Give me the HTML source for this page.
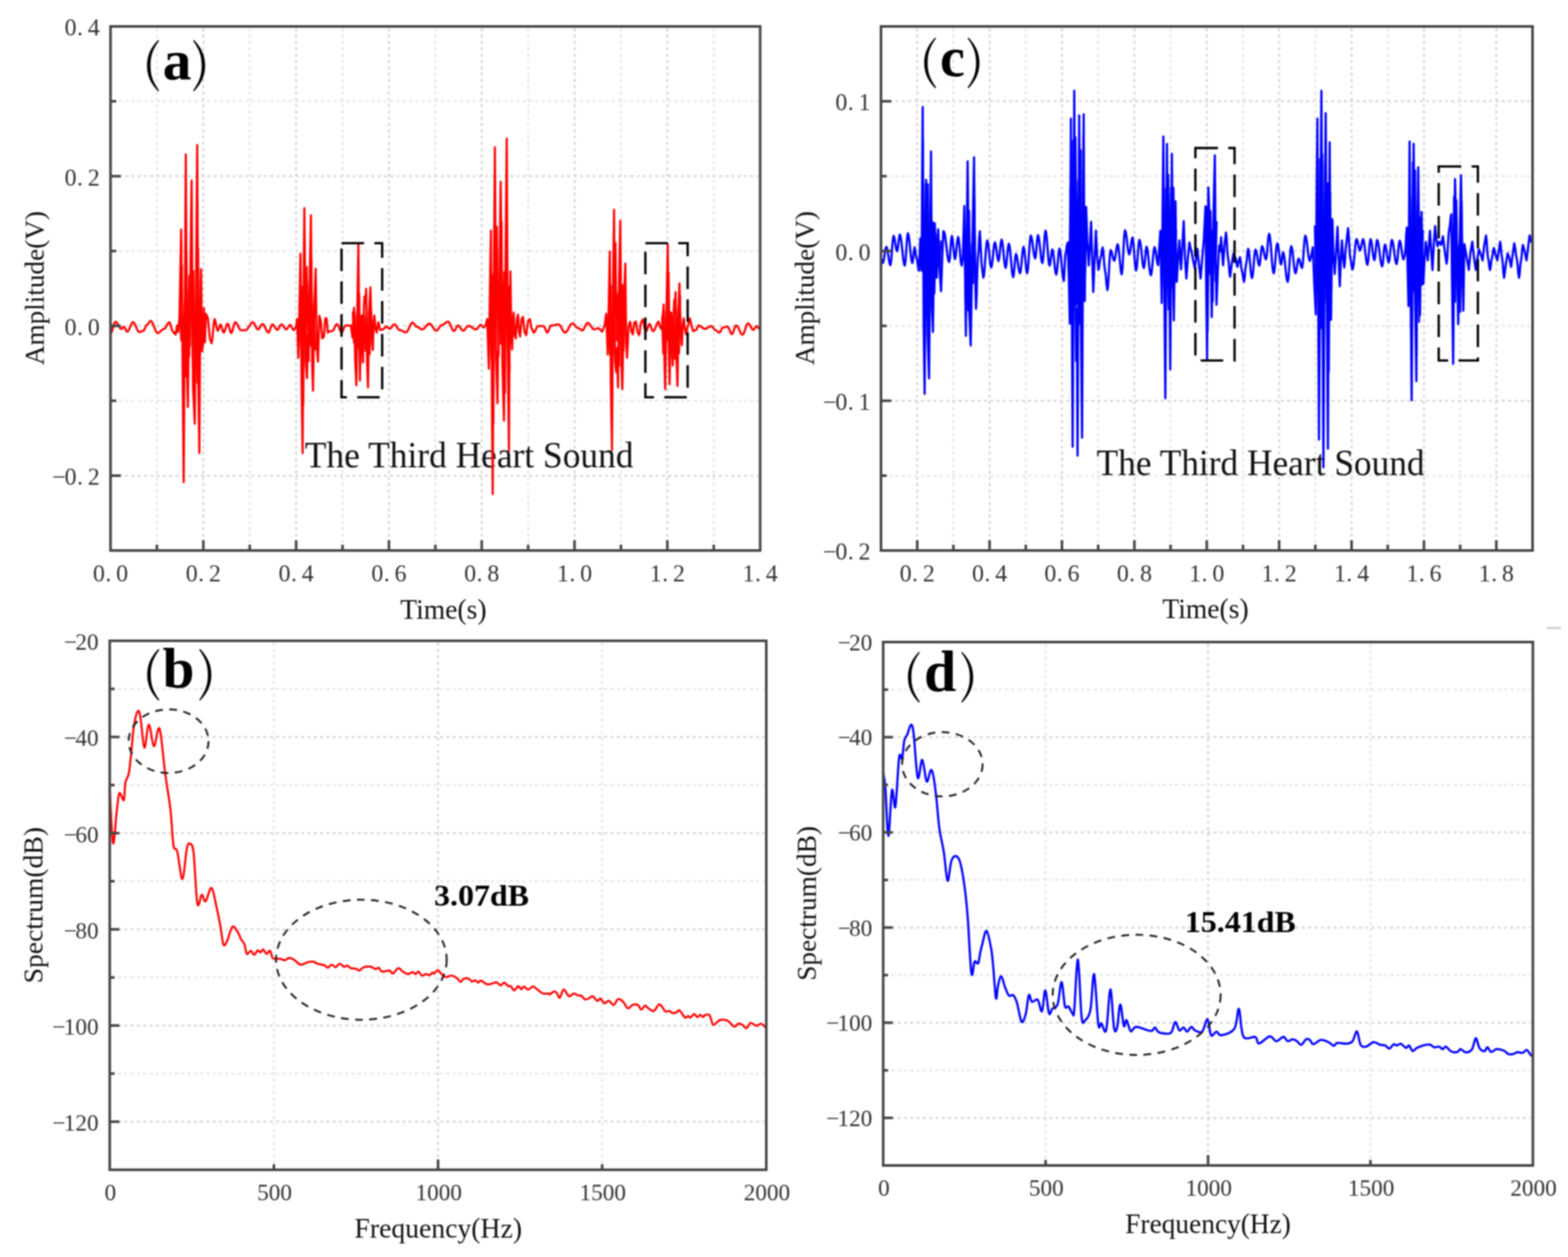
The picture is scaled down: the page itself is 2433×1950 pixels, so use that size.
<!DOCTYPE html>
<html><head><meta charset="utf-8"><title>Heart sound figure</title>
<style>html,body{margin:0;padding:0;background:#fff;overflow:hidden;}svg{display:block;filter:blur(1px);}</style>
</head><body>
<svg width="2433" height="1950" viewBox="0 0 2433 1950" font-family="'Liberation Serif','Times New Roman',serif">
<rect width="2433" height="1950" fill="#fff"/>
<line x1="243.5" y1="44" x2="243.5" y2="851" stroke="#e6e6e6" stroke-width="3" stroke-dasharray="4.6 5.2"/>
<line x1="315.5" y1="44" x2="315.5" y2="851" stroke="#d6d6d6" stroke-width="3" stroke-dasharray="4.6 5.2"/>
<line x1="387.5" y1="44" x2="387.5" y2="851" stroke="#e6e6e6" stroke-width="3" stroke-dasharray="4.6 5.2"/>
<line x1="459.5" y1="44" x2="459.5" y2="851" stroke="#d6d6d6" stroke-width="3" stroke-dasharray="4.6 5.2"/>
<line x1="531.5" y1="44" x2="531.5" y2="851" stroke="#e6e6e6" stroke-width="3" stroke-dasharray="4.6 5.2"/>
<line x1="603.5" y1="44" x2="603.5" y2="851" stroke="#d6d6d6" stroke-width="3" stroke-dasharray="4.6 5.2"/>
<line x1="675.5" y1="44" x2="675.5" y2="851" stroke="#e6e6e6" stroke-width="3" stroke-dasharray="4.6 5.2"/>
<line x1="747.5" y1="44" x2="747.5" y2="851" stroke="#d6d6d6" stroke-width="3" stroke-dasharray="4.6 5.2"/>
<line x1="819.5" y1="44" x2="819.5" y2="851" stroke="#e6e6e6" stroke-width="3" stroke-dasharray="4.6 5.2"/>
<line x1="891.5" y1="44" x2="891.5" y2="851" stroke="#d6d6d6" stroke-width="3" stroke-dasharray="4.6 5.2"/>
<line x1="963.5" y1="44" x2="963.5" y2="851" stroke="#e6e6e6" stroke-width="3" stroke-dasharray="4.6 5.2"/>
<line x1="1035.5" y1="44" x2="1035.5" y2="851" stroke="#d6d6d6" stroke-width="3" stroke-dasharray="4.6 5.2"/>
<line x1="1107.5" y1="44" x2="1107.5" y2="851" stroke="#e6e6e6" stroke-width="3" stroke-dasharray="4.6 5.2"/>
<line x1="174.5" y1="737.9" x2="1176.5" y2="737.9" stroke="#d6d6d6" stroke-width="3" stroke-dasharray="4.6 5.2"/>
<line x1="174.5" y1="621.7" x2="1176.5" y2="621.7" stroke="#e6e6e6" stroke-width="3" stroke-dasharray="4.6 5.2"/>
<line x1="174.5" y1="505.6" x2="1176.5" y2="505.6" stroke="#d6d6d6" stroke-width="3" stroke-dasharray="4.6 5.2"/>
<line x1="174.5" y1="389.4" x2="1176.5" y2="389.4" stroke="#e6e6e6" stroke-width="3" stroke-dasharray="4.6 5.2"/>
<line x1="174.5" y1="273.3" x2="1176.5" y2="273.3" stroke="#d6d6d6" stroke-width="3" stroke-dasharray="4.6 5.2"/>
<line x1="174.5" y1="157.1" x2="1176.5" y2="157.1" stroke="#e6e6e6" stroke-width="3" stroke-dasharray="4.6 5.2"/>
<line x1="1423.2" y1="44" x2="1423.2" y2="851" stroke="#d6d6d6" stroke-width="3" stroke-dasharray="4.6 5.2"/>
<line x1="1479.3" y1="44" x2="1479.3" y2="851" stroke="#e6e6e6" stroke-width="3" stroke-dasharray="4.6 5.2"/>
<line x1="1535.5" y1="44" x2="1535.5" y2="851" stroke="#d6d6d6" stroke-width="3" stroke-dasharray="4.6 5.2"/>
<line x1="1591.7" y1="44" x2="1591.7" y2="851" stroke="#e6e6e6" stroke-width="3" stroke-dasharray="4.6 5.2"/>
<line x1="1647.8" y1="44" x2="1647.8" y2="851" stroke="#d6d6d6" stroke-width="3" stroke-dasharray="4.6 5.2"/>
<line x1="1704" y1="44" x2="1704" y2="851" stroke="#e6e6e6" stroke-width="3" stroke-dasharray="4.6 5.2"/>
<line x1="1760.2" y1="44" x2="1760.2" y2="851" stroke="#d6d6d6" stroke-width="3" stroke-dasharray="4.6 5.2"/>
<line x1="1816.3" y1="44" x2="1816.3" y2="851" stroke="#e6e6e6" stroke-width="3" stroke-dasharray="4.6 5.2"/>
<line x1="1872.5" y1="44" x2="1872.5" y2="851" stroke="#d6d6d6" stroke-width="3" stroke-dasharray="4.6 5.2"/>
<line x1="1928.7" y1="44" x2="1928.7" y2="851" stroke="#e6e6e6" stroke-width="3" stroke-dasharray="4.6 5.2"/>
<line x1="1984.8" y1="44" x2="1984.8" y2="851" stroke="#d6d6d6" stroke-width="3" stroke-dasharray="4.6 5.2"/>
<line x1="2041" y1="44" x2="2041" y2="851" stroke="#e6e6e6" stroke-width="3" stroke-dasharray="4.6 5.2"/>
<line x1="2097.2" y1="44" x2="2097.2" y2="851" stroke="#d6d6d6" stroke-width="3" stroke-dasharray="4.6 5.2"/>
<line x1="2153.3" y1="44" x2="2153.3" y2="851" stroke="#e6e6e6" stroke-width="3" stroke-dasharray="4.6 5.2"/>
<line x1="2209.5" y1="44" x2="2209.5" y2="851" stroke="#d6d6d6" stroke-width="3" stroke-dasharray="4.6 5.2"/>
<line x1="2265.7" y1="44" x2="2265.7" y2="851" stroke="#e6e6e6" stroke-width="3" stroke-dasharray="4.6 5.2"/>
<line x1="2321.8" y1="44" x2="2321.8" y2="851" stroke="#d6d6d6" stroke-width="3" stroke-dasharray="4.6 5.2"/>
<line x1="1370" y1="737.9" x2="2375" y2="737.9" stroke="#e6e6e6" stroke-width="3" stroke-dasharray="4.6 5.2"/>
<line x1="1370" y1="621.7" x2="2375" y2="621.7" stroke="#d6d6d6" stroke-width="3" stroke-dasharray="4.6 5.2"/>
<line x1="1370" y1="505.6" x2="2375" y2="505.6" stroke="#e6e6e6" stroke-width="3" stroke-dasharray="4.6 5.2"/>
<line x1="1370" y1="389.4" x2="2375" y2="389.4" stroke="#d6d6d6" stroke-width="3" stroke-dasharray="4.6 5.2"/>
<line x1="1370" y1="273.3" x2="2375" y2="273.3" stroke="#e6e6e6" stroke-width="3" stroke-dasharray="4.6 5.2"/>
<line x1="1370" y1="157.1" x2="2375" y2="157.1" stroke="#d6d6d6" stroke-width="3" stroke-dasharray="4.6 5.2"/>
<line x1="425" y1="997.1" x2="425" y2="1811.7" stroke="#e6e6e6" stroke-width="3" stroke-dasharray="4.6 5.2"/>
<line x1="679.7" y1="997.1" x2="679.7" y2="1811.7" stroke="#d6d6d6" stroke-width="3" stroke-dasharray="4.6 5.2"/>
<line x1="934.3" y1="997.1" x2="934.3" y2="1811.7" stroke="#e6e6e6" stroke-width="3" stroke-dasharray="4.6 5.2"/>
<line x1="173.3" y1="1068.7" x2="1186" y2="1068.7" stroke="#e6e6e6" stroke-width="3" stroke-dasharray="4.6 5.2"/>
<line x1="173.3" y1="1143.3" x2="1186" y2="1143.3" stroke="#d6d6d6" stroke-width="3" stroke-dasharray="4.6 5.2"/>
<line x1="173.3" y1="1217.9" x2="1186" y2="1217.9" stroke="#e6e6e6" stroke-width="3" stroke-dasharray="4.6 5.2"/>
<line x1="173.3" y1="1292.5" x2="1186" y2="1292.5" stroke="#d6d6d6" stroke-width="3" stroke-dasharray="4.6 5.2"/>
<line x1="173.3" y1="1367.1" x2="1186" y2="1367.1" stroke="#e6e6e6" stroke-width="3" stroke-dasharray="4.6 5.2"/>
<line x1="173.3" y1="1441.7" x2="1186" y2="1441.7" stroke="#d6d6d6" stroke-width="3" stroke-dasharray="4.6 5.2"/>
<line x1="173.3" y1="1516.3" x2="1186" y2="1516.3" stroke="#e6e6e6" stroke-width="3" stroke-dasharray="4.6 5.2"/>
<line x1="173.3" y1="1590.9" x2="1186" y2="1590.9" stroke="#d6d6d6" stroke-width="3" stroke-dasharray="4.6 5.2"/>
<line x1="173.3" y1="1665.5" x2="1186" y2="1665.5" stroke="#e6e6e6" stroke-width="3" stroke-dasharray="4.6 5.2"/>
<line x1="173.3" y1="1740.1" x2="1186" y2="1740.1" stroke="#d6d6d6" stroke-width="3" stroke-dasharray="4.6 5.2"/>
<line x1="1622.4" y1="999" x2="1622.4" y2="1805" stroke="#e6e6e6" stroke-width="3" stroke-dasharray="4.6 5.2"/>
<line x1="1874.5" y1="999" x2="1874.5" y2="1805" stroke="#d6d6d6" stroke-width="3" stroke-dasharray="4.6 5.2"/>
<line x1="2126.5" y1="999" x2="2126.5" y2="1805" stroke="#e6e6e6" stroke-width="3" stroke-dasharray="4.6 5.2"/>
<line x1="1373.4" y1="1069.8" x2="2375.5" y2="1069.8" stroke="#e6e6e6" stroke-width="3" stroke-dasharray="4.6 5.2"/>
<line x1="1373.4" y1="1143.6" x2="2375.5" y2="1143.6" stroke="#d6d6d6" stroke-width="3" stroke-dasharray="4.6 5.2"/>
<line x1="1373.4" y1="1217.5" x2="2375.5" y2="1217.5" stroke="#e6e6e6" stroke-width="3" stroke-dasharray="4.6 5.2"/>
<line x1="1373.4" y1="1291.3" x2="2375.5" y2="1291.3" stroke="#d6d6d6" stroke-width="3" stroke-dasharray="4.6 5.2"/>
<line x1="1373.4" y1="1365.1" x2="2375.5" y2="1365.1" stroke="#e6e6e6" stroke-width="3" stroke-dasharray="4.6 5.2"/>
<line x1="1373.4" y1="1438.9" x2="2375.5" y2="1438.9" stroke="#d6d6d6" stroke-width="3" stroke-dasharray="4.6 5.2"/>
<line x1="1373.4" y1="1512.7" x2="2375.5" y2="1512.7" stroke="#e6e6e6" stroke-width="3" stroke-dasharray="4.6 5.2"/>
<line x1="1373.4" y1="1586.5" x2="2375.5" y2="1586.5" stroke="#d6d6d6" stroke-width="3" stroke-dasharray="4.6 5.2"/>
<line x1="1373.4" y1="1660.4" x2="2375.5" y2="1660.4" stroke="#e6e6e6" stroke-width="3" stroke-dasharray="4.6 5.2"/>
<line x1="1373.4" y1="1734.2" x2="2375.5" y2="1734.2" stroke="#d6d6d6" stroke-width="3" stroke-dasharray="4.6 5.2"/>
<text x="473" y="725" font-size="56" fill="#111" textLength="510" lengthAdjust="spacingAndGlyphs">The Third Heart Sound</text>
<text x="1701.5" y="737" font-size="56" fill="#111" textLength="509" lengthAdjust="spacingAndGlyphs">The Third Heart Sound</text>
<path d="M171.5 517.3 172.6 516.4 173.7 513.9 174.8 510.3 176 506.2 177.1 502.6 178.2 500.1 179.3 499.2 180.3 499.5 181.3 500.5 182.3 502 183.3 503.8 184.4 505.7 185.4 507.5 186.4 509 187.4 510 188.4 510.3 189.6 509.4 190.7 507.8 191.9 506.9 193 507.6 194.1 509.5 195.2 511.9 196.3 513.8 197.4 514.5 198.4 514.1 199.4 512.8 200.4 510.9 201.4 508.5 202.5 505.9 203.5 503.6 204.5 501.6 205.5 500.3 206.5 499.9 207.6 500.4 208.7 501.7 209.7 503.7 210.8 506.2 211.9 508.9 213 511.4 214 513.4 215.1 514.7 216.2 515.2 217.2 515.1 218.3 514.7 219.3 514.2 220.4 513.6 221.4 513.2 222.5 513.1 223.6 512.2 224.7 510 225.8 507.1 226.9 504.9 228 504 229.1 503.4 230.2 501.9 231.4 499.9 232.5 498.4 233.6 497.8 234.6 498.2 235.6 499.3 236.6 501 237.6 503.3 238.6 505.9 239.7 508.5 240.7 511.1 241.7 513.4 242.7 515.1 243.7 516.2 244.7 516.6 245.8 516.4 246.9 515.9 248 515 249.1 514 250.1 512.9 251.2 511.9 252.3 511 253.4 510.5 254.5 510.3 255.5 509.9 256.6 508.8 257.6 507.1 258.6 505.1 259.7 503.1 260.7 501.4 261.8 500.3 262.8 499.9 263.9 501.3 265 504.9 266.2 509.5 267.3 513.1 268.4 514.5 269.4 515.2 270.4 516.8 271.5 518.3 272.5 519 274.7 505 276.5 515 278.5 492 279.8 424 281.1 356 283.3 560 285 748 286.8 470 288.3 239.4 290 560 291.5 631.4 292.5 545 293.5 553 295.5 420 297.3 280 299.5 600 300.9 628.6 302.2 657.3 304.2 440 306 224.9 307.8 600 309.3 702.7 310.8 470 312 417.6 313.5 545 315 534 316.5 478 318 531 319.5 487 320.5 488.6 321.6 491.9 322.6 493.6 324.1 509.3 325.5 525 326.9 528.8 328.2 532.6 329.4 527.1 330.6 513.8 331.8 500.5 333 495 334.2 497.7 335.4 504.1 336.7 510.4 337.9 513.1 338.9 511.7 340 508.2 341.1 504.8 342.1 503.4 343.3 505.2 344.6 509.6 345.8 514.1 347 515.9 348 515 349.1 512.4 350.1 508.9 351.1 505.5 352.2 502.9 353.2 502 354.3 503.4 355.4 507 356.6 511.6 357.7 515.2 358.8 516.6 359.8 515.5 360.9 512.4 361.9 508.2 362.9 504.1 364 501 365 499.9 366 500.3 367 501.4 368 503 369 505.1 370.1 507.2 371.1 509.3 372.1 510.9 373.1 512 374.1 512.4 375.2 512.4 376.4 512.4 377.6 512.4 378.7 512.4 379.9 512.4 381 512.4 382 512.1 383 511.4 384 510.2 385 508.7 386 507 387.1 505.3 388.1 503.6 389.1 502.1 390.1 500.9 391.1 500.2 392.1 499.9 393.2 500.3 394.2 501.5 395.2 503.3 396.3 505.4 397.4 507.6 398.4 509.4 399.4 510.6 400.5 511 401.6 510.4 402.8 508.9 403.9 506.9 405.1 504.8 406.2 503.3 407.4 502.7 408.4 503.1 409.4 504.2 410.4 506 411.4 508.2 412.5 510.4 413.5 512.6 414.5 514.4 415.5 515.5 416.5 515.9 417.5 515.1 418.6 512.8 419.6 509.6 420.6 506.5 421.7 504.2 422.7 503.4 423.8 503.8 424.9 505 426 506.6 427.1 508.5 428.2 510.1 429.3 511.3 430.4 511.7 431.4 511.1 432.5 509.6 433.5 507.6 434.5 505.5 435.6 504 436.6 503.4 437.7 503.8 438.8 504.8 439.9 506.4 441 508 442.1 509.6 443.2 510.6 444.3 511 445.4 510.3 446.5 508.6 447.7 506.5 448.8 504.8 449.9 504.1 450.9 504.6 451.9 506.1 452.9 508.1 454 510 455 511.5 456 512 457.1 510.8 458.3 508.2 459.4 507 461 495 463 555 464.8 470 466.2 393.5 468 600 469.6 703 471 450 472.3 323 474.5 560 476.4 586.6 477.6 520 478.9 560 480.8 420 482.5 334 484.2 560 485.7 606 487.8 470 489.8 416.6 491.6 540 493.4 561 495.5 490 497.8 498 500 525 501.4 523.5 502.7 522 504.8 494 506.8 494 508.6 516 510.4 514 511.4 514 512.4 513.9 513.4 513.8 514.4 513.7 515.4 513.6 516.5 513.1 517.6 511.6 518.7 509.4 519.8 507 520.9 504.8 522 503.3 523.1 502.8 524.2 503.6 525.3 505.9 526.5 509 527.6 512.1 528.7 514.4 529.9 515.2 531 514.6 532.1 512.7 533.2 510.1 534.3 507.5 535.4 505.6 536.5 504.9 537.7 504.9 538.8 504.9 539.9 504.9 541 505 542.2 505 543.3 505 544.4 505 546.9 523.5 549.3 477.3 551.2 560 553 597.5 554.6 470 556.1 379 557.3 520 558.5 590 560 500 561.4 489.5 562.4 540 563.4 562 564.5 480 565.6 460 566.9 470 568.2 448 569.6 560 571 601 572.9 480 574.8 445.7 576.6 520 578.5 543 579.7 500 580.9 489.5 582.7 510 584.5 516 587 500 588 503 589 509 590 512 591 511.9 592 511.5 593 511.1 594 511 595 510.6 596.1 509.5 597.1 508.2 598.2 507.1 599.2 506.7 600.4 507 601.5 507.8 602.7 508.9 603.8 509.7 605 510 606.1 509.5 607.2 508.2 608.4 506.5 609.5 504.8 610.6 503.5 611.7 503 612.7 503.3 613.8 504.3 614.8 505.8 615.9 507.5 616.9 509.2 617.9 510.7 619 511.7 620 512 621 512.1 622 512.3 623 512.7 624 513.2 625 513.8 626 514.3 627 514.8 628 515.2 629 515.4 630 515.5 631 515.1 632 514.1 633 512.4 634 510.3 635 508 636 505.7 637 503.6 638 501.9 639 500.9 640 500.5 641 500.8 642 501.7 643 503 644 504.5 645 505.8 646 506.7 647 507 648 507.2 649 507.6 650 508.2 651 509 652 509.8 653 510.4 654 510.8 655 511 656 510.8 657.1 510.3 658.1 509.4 659.1 508.4 660.2 507.1 661.2 505.9 662.3 504.6 663.3 503.6 664.3 502.7 665.4 502.2 666.4 502 667.4 502.3 668.5 503.1 669.5 504.3 670.6 505.8 671.6 507.5 672.6 509.2 673.7 510.7 674.7 511.9 675.8 512.7 676.8 513 677.8 512.7 678.8 511.9 679.9 510.8 680.9 509.3 681.9 507.7 682.9 506.2 684 505.1 685 504.3 686 504 687 503.8 688 503.4 689.1 502.8 690.1 501.9 691.1 501.1 692.1 500.2 693.2 499.6 694.2 499.2 695.2 499 696.2 499.4 697.2 500.7 698.3 502.6 699.3 505 700.3 507.5 701.3 509.9 702.4 511.8 703.4 513.1 704.4 513.5 705.4 512.9 706.5 511.4 707.5 509.2 708.5 507.1 709.6 505.6 710.6 505 711.6 505.3 712.6 506.2 713.6 507.5 714.6 509 715.6 510.5 716.6 511.8 717.6 512.7 718.6 513 719.6 512.7 720.7 511.9 721.7 510.7 722.8 509.2 723.8 507.8 724.8 506.6 725.9 505.8 726.9 505.5 728 505.6 729 505.9 730.1 506.4 731.2 507.1 732.2 507.9 733.3 508.6 734.3 509.4 735.4 510.1 736.5 510.6 737.5 510.9 738.6 511 739.7 510.7 740.7 509.7 741.8 508.3 742.8 506.7 743.9 505.3 744.9 504.3 746 504 747 504.4 748 505.4 749 506.6 750 507.6 751 508 753.5 505 756 495 758.5 572 760.2 450 761.8 357.6 763.2 600 764.5 766.5 766.2 450 767.9 228.5 770 560 771.9 625.7 772.7 545 773.6 552 775.3 400 776.9 282 778.2 421 779.5 560 782 652.6 784.2 430 786.3 215 788 560 789.7 699.5 790.8 500 792 421 793.4 520 794.7 542 795.9 500 797 485 798.7 520 800.4 525 802.1 495 803.8 488 805.4 515 807 522 809.3 495 811.5 491.7 814 515 816.5 520 817.9 509 819.3 498 820.6 496.5 822 495 823 498.8 824 506.2 825 510 826.1 511.5 827.2 514.4 828.3 515.9 829.4 515.2 830.5 513.4 831.6 510.9 832.8 508.4 833.9 506.6 835 505.9 836 505.9 837.1 505.9 838.1 505.9 839.2 505.9 840.2 505.9 841.3 505.9 842.4 505.9 843.4 505.9 844.6 506.9 845.7 509.4 846.9 512.4 848 514.9 849.2 515.9 850.4 514.9 851.5 512.1 852.7 508.8 853.8 506 855 505 856.1 505 857.1 504.9 858.2 504.7 859.3 504.5 860.3 504.3 861.4 504.1 862.4 503.9 863.5 503.7 864.6 503.5 865.6 503.4 866.7 503.4 867.7 503.7 868.7 504.6 869.7 506 870.7 507.7 871.8 509.6 872.8 511.6 873.8 513.3 874.8 514.7 875.8 515.6 876.8 515.9 877.9 515.6 878.9 514.8 880 513.4 881 511.7 882.1 509.8 883.1 507.8 884.2 505.9 885.2 504.2 886.3 502.8 887.3 502 888.4 501.7 889.5 502 890.5 502.8 891.6 504 892.7 505.3 893.8 506.7 894.9 507.9 895.9 508.7 897 509 898.1 509.2 899.2 509.9 900.2 510.8 901.3 511.7 902.4 512.4 903.5 512.6 904.5 512.2 905.6 510.9 906.6 509 907.6 506.8 908.7 504.5 909.7 502.6 910.8 501.3 911.8 500.9 912.8 501.1 913.8 501.9 914.8 503 915.8 504.4 916.8 505.9 917.8 507.4 918.8 508.8 919.8 509.9 920.8 510.7 921.8 510.9 922.9 510.8 924 510.5 925.1 510.1 926.3 509.6 927.4 509.3 928.5 509.2 929.7 509.7 930.9 510.9 932 512.5 933.2 513.7 934.4 514.2 935.7 511.9 936.9 507.3 938.2 505 940.6 487 943 550 944.6 470 946.2 390 947.9 600 949.6 698 951.2 450 952.8 325.5 954.4 560 956 577 957.5 540 958.9 601 960.7 430 962.5 342.5 964.1 560 965.7 603.6 968 470 970.3 409 971.6 530 973 555 975.4 505 977.8 499 980 515 982 518.6 984.4 500 986.8 499 989.2 515 991.7 520 992.7 515 993.7 505 994.7 500 995.7 498.9 996.7 496.6 997.7 495.5 1000.2 510 1002.6 513.7 1003.6 512.6 1004.6 509.9 1005.6 506.5 1006.6 503.7 1007.6 502.6 1008.8 503.7 1009.9 506.5 1011.1 510 1012.3 512.7 1013.5 513.8 1014.5 513.3 1015.6 511.6 1016.7 509.2 1017.7 506.4 1018.8 503.6 1019.9 501.2 1020.9 499.6 1022 499 1024.5 508 1026.9 511 1028.3 491.8 1029.8 472.5 1031 560 1032.2 603.6 1034.2 480 1036.1 379 1037.5 520 1039 596 1040.3 520 1041.5 484.6 1042.7 540 1043.9 567 1045.1 490 1046.3 465 1047.3 470 1048.3 453 1049.8 560 1051.2 598.8 1052.8 480 1054.3 439.7 1056.2 510 1058 535.6 1059.4 505 1060.9 494 1062.7 510 1064.5 518.6 1065.5 515.2 1066.5 508.4 1067.5 505 1068.5 502.2 1069.6 496.8 1070.6 494 1073 505 1075.5 513.7 1076.6 513.5 1077.8 512.9 1078.9 512.2 1080 512 1081.3 510.2 1082.5 506.8 1083.8 505 1084.8 505.1 1085.8 505.5 1086.8 506.1 1087.8 506.8 1088.8 507.6 1089.8 508.3 1090.8 509 1091.8 509.6 1092.8 510 1093.8 510.1 1094.8 510 1095.8 509.7 1096.8 509.2 1097.8 508.6 1098.8 508 1099.8 507.4 1100.8 506.8 1101.8 506.3 1102.8 506 1103.8 505.9 1104.8 506.3 1105.9 507.4 1106.9 508.9 1107.9 510.5 1109 511.6 1110 512 1111 512.3 1112 513 1113 514 1114 515 1115 515.7 1116 516 1117 515.5 1118 514 1119 512 1120 510 1121 508.5 1122 508 1123.1 507.9 1124.3 507.7 1125.4 507.4 1126.5 507 1127.7 506.8 1128.8 506.7 1129.9 507.5 1131 509.6 1132.2 512.5 1133.3 515.5 1134.4 517.6 1135.5 518.4 1136.6 517.5 1137.7 515 1138.8 511.7 1140 508.4 1141.1 505.9 1142.2 505 1143.2 505.3 1144.2 506.4 1145.2 507.9 1146.2 509.9 1147.2 512.1 1148.2 514.3 1149.2 516.3 1150.2 517.8 1151.2 518.9 1152.2 519.2 1153.2 518.5 1154.3 516.6 1155.3 513.8 1156.4 510.5 1157.5 507.1 1158.5 504.3 1159.5 502.4 1160.6 501.7 1161.6 502.1 1162.7 503.2 1163.7 504.8 1164.8 506.7 1165.8 508.6 1166.8 510.2 1167.9 511.3 1168.9 511.7 1169.9 511.2 1170.9 509.7 1172 508 1173 506.5 1174 506 1175.1 506.5 1176.2 507.7 1177.3 509.2 1178.4 510.4 1179.5 510.9" fill="none" stroke="#ff0000" stroke-width="3.3" stroke-linejoin="round"/>
<path d="M279 485.7 280.8 528.2 282.6 412.2 284.4 604.3 286.2 465.6 288 584.8 289.8 391 291.6 585.3 293.4 427.8 295.2 537 297 382.5 298.8 566.9 300.6 420.2 302.4 631.7 304.2 465.5 306 593.9 307.8 385.2 309.6 606.7 311.4 464.4" fill="none" stroke="#ff0000" stroke-width="2.4" stroke-linejoin="round"/>
<path d="M462 497.2 463.8 541.8 465.6 466.5 467.4 560.7 469.2 444.4 471 627.6 472.8 384.3 474.6 550.6 476.4 413.6 478.2 533.6 480 435.5 481.8 536.5 483.6 401.8 485.4 569 487.2 469.6 489 543.4" fill="none" stroke="#ff0000" stroke-width="2.4" stroke-linejoin="round"/>
<path d="M547 483.1 548.8 531.7 550.6 486.1 552.4 552.2 554.2 478.9 556 539.3 557.8 456.5 559.6 564.9 561.4 498 563.2 543 565 486 566.8 544.6 568.6 465.1 570.4 571.4 572.2 484.5 574 549.9 575.8 475.3 577.6 520.8 579.4 499.9" fill="none" stroke="#ff0000" stroke-width="2.4" stroke-linejoin="round"/>
<path d="M757 494.8 758.8 562.9 760.6 447.7 762.4 558.6 764.2 426.6 766 656.9 767.8 286.3 769.6 557.7 771.4 351.2 773.2 540.9 775 434.3 776.8 533.6 778.6 343.3 780.4 554.2 782.2 422 784 609.9 785.8 352.8 787.6 542.8 789.4 444.5 791.2 576.5" fill="none" stroke="#ff0000" stroke-width="2.4" stroke-linejoin="round"/>
<path d="M941 492.7 942.8 530 944.6 479.9 946.4 550 948.2 442.6 950 620.6 951.8 426.3 953.6 549.8 955.4 376.5 957.2 528.4 959 454.6 960.8 567.8 962.6 362.1 964.4 558.7 966.2 441.7 968 545.1 969.8 457.9" fill="none" stroke="#ff0000" stroke-width="2.4" stroke-linejoin="round"/>
<path d="M1027 490.2 1028.8 548.9 1030.6 483.3 1032.4 572.3 1034.2 484.6 1036 528.6 1037.8 422.6 1039.6 545.1 1041.4 493.9 1043.2 542.2 1045 496.9 1046.8 557.3 1048.6 466.6 1050.4 547.5 1052.2 479.9 1054 548.4 1055.8 458.6" fill="none" stroke="#ff0000" stroke-width="2.4" stroke-linejoin="round"/>
<path d="M1367 400 1368.4 404 1369.8 408 1370.9 405.6 1372 399.3 1373.1 391.6 1374.2 385.3 1375.3 382.9 1376.3 384.8 1377.4 390 1378.4 397.1 1379.5 404.3 1380.5 409.5 1381.6 411.4 1382.8 404.8 1384 388.7 1385.3 372.6 1386.5 366 1387.6 368.3 1388.7 374.2 1389.8 381.6 1390.9 387.5 1392 389.8 1393 386 1394.1 376.9 1395.2 367.8 1396.2 364 1397.3 366.4 1398.4 373 1399.5 382.7 1400.6 393.3 1401.7 403 1402.8 409.6 1403.9 412 1405.1 404.7 1406.3 387 1407.5 369.3 1408.7 362 1409.7 364.3 1410.7 370.7 1411.7 379.9 1412.7 390.1 1413.7 399.3 1414.7 405.7 1415.7 408 1416.9 401.9 1418 389.7 1419.2 383.6 1420.6 391.8 1422 400 1423 402.9 1424 410 1425 417.1 1426 420 1428 370 1430 420 1431.7 166 1433.2 500 1434.7 611 1436 420 1437 279 1439.3 520 1441.6 587 1443.1 400 1444.6 235 1446.1 480 1447.6 515 1449.1 400 1450.6 346.5 1452.1 420 1453.6 430.8 1454.6 380 1455.7 355.6 1458 420 1460.2 451.8 1462 400 1463.8 358.6 1464.4 359 1465.4 360.8 1466.5 366 1467.5 373.7 1468.6 382.8 1469.6 391.8 1470.6 399.5 1471.7 404.7 1472.7 406.5 1473.8 400.6 1474.8 386.2 1475.9 371.9 1477 366 1478.2 371.3 1479.4 384 1480.6 396.7 1481.8 402 1483 397 1484.2 384.8 1485.5 372.6 1486.7 367.6 1487.8 371.8 1488.9 382.9 1490 396.7 1491.1 407.8 1492.2 412 1494 400 1496.3 319.5 1498.7 521 1500 380 1501.4 250.3 1503.8 480 1506.2 536 1507.5 458 1508.8 380 1510.1 312 1511.4 244 1512.9 420 1514.4 479 1515.4 459.2 1516.4 419.8 1517.4 400 1518.4 389.7 1519.4 369 1520.4 358.6 1521.8 384.3 1523.1 410 1524.4 420.4 1525.8 430.8 1526.8 426.9 1527.8 416.4 1528.8 401.9 1529.9 387.4 1530.9 376.9 1531.9 373 1532.9 375.8 1534 383.5 1535 393.9 1536 404.4 1537.1 412.1 1538.1 414.9 1539.2 411.2 1540.3 401.5 1541.5 389.4 1542.6 379.7 1543.7 376 1544.8 378.8 1545.9 386 1547.1 395 1548.2 402.2 1549.3 405 1550.5 400.1 1551.7 388.4 1552.9 376.6 1554.1 371.7 1555.1 374.6 1556.2 382.7 1557.2 393.6 1558.3 404.6 1559.4 412.7 1560.4 415.6 1561.6 410.1 1562.8 396.8 1564.1 383.5 1565.3 378 1566.5 381.5 1567.6 391 1568.8 404 1569.9 417 1571 426.5 1572.2 430 1573.2 424.7 1574.3 412 1575.4 399.3 1576.4 394 1577.5 396 1578.5 401.5 1579.6 409 1580.6 416.5 1581.7 422 1582.7 424 1583.8 420.1 1584.9 409.8 1586 397.1 1587.1 386.8 1588.2 382.9 1589.3 386.8 1590.4 397.1 1591.6 409.8 1592.7 420.1 1593.8 424 1594.9 418.4 1596 403.8 1597.2 385.7 1598.3 371.1 1599.4 365.5 1600.6 367.9 1601.7 374.4 1602.8 383.2 1604 392.1 1605.2 398.6 1606.3 401 1607.3 395.7 1608.4 382.9 1609.5 370.1 1610.5 364.8 1611.5 366.9 1612.5 372.9 1613.5 381.6 1614.5 391.2 1615.5 399.9 1616.5 405.9 1617.5 408 1618.7 400.6 1619.9 382.9 1621.1 365.2 1622.3 357.8 1623.3 361.4 1624.4 371.4 1625.4 384.9 1626.5 398.4 1627.5 408.4 1628.6 412 1629.6 408.3 1630.7 399.5 1631.8 390.7 1632.8 387 1633.8 389.6 1634.9 396.8 1635.9 406.5 1636.9 416.2 1638 423.4 1639 426 1640.2 420.1 1641.5 405.9 1642.7 391.6 1643.9 385.7 1645.1 389 1646.2 398.2 1647.3 410.7 1648.5 423.2 1649.7 432.4 1650.8 435.7 1653 395 1654.2 390.5 1655.3 381.5 1656.5 377 1658.5 430 1660 502 1661.7 184 1663 450 1664.4 693 1665.7 400 1666.9 140.8 1668.3 420 1669.7 560 1670.9 480 1672 706.8 1673.3 400 1674.5 179 1676.8 450 1679 679 1680.3 400 1681.5 177.3 1682.4 400 1683.2 467 1684.2 380 1685.3 321 1687.4 380 1689.4 411.7 1691.2 380 1693 344 1694.7 400 1696.4 453 1698.5 400 1700.5 357.8 1702.5 400 1704.4 418.6 1705.5 414 1706.6 404.7 1707.7 400 1708.8 396 1709.9 388 1711 384 1712.2 393 1713.5 411 1714.7 420 1715.9 427.5 1717.1 442.5 1718.3 450 1719.3 444.1 1720.3 428.6 1721.3 409.4 1722.3 393.9 1723.3 388 1724.4 389.6 1725.6 393.7 1726.7 398.8 1727.9 402.9 1729 404.5 1730 402.1 1731.1 395.7 1732.1 387.7 1733.2 381.3 1734.2 378.9 1735.3 382 1736.3 390.6 1737.4 402.2 1738.5 413.9 1739.5 422.5 1740.6 425.6 1741.8 415.6 1743 391.4 1744.3 367.1 1745.5 357.1 1746.6 359.6 1747.8 366.5 1748.9 375.9 1750 385.3 1751.2 392.2 1752.3 394.7 1753.5 390.8 1754.8 381.6 1756 372.3 1757.2 368.4 1758.3 373.3 1759.4 386.1 1760.6 401.8 1761.7 414.6 1762.8 419.5 1763.9 415 1764.9 403.1 1766 388.5 1767 376.6 1768.1 372.1 1769.2 375 1770.4 383 1771.5 393.9 1772.6 404.9 1773.8 412.9 1774.9 415.8 1775.9 411 1777 399.2 1778 387.5 1779 382.7 1780.1 385.7 1781.3 393.8 1782.4 404.8 1783.5 415.9 1784.7 424 1785.8 427 1786.9 422.8 1788 411.9 1789.2 398.5 1790.3 387.6 1791.4 383.4 1792.5 386.1 1793.7 393 1794.8 401.7 1796 408.6 1797.1 411.3 1798 395 1800.5 358 1802.6 470 1803.8 350 1805.1 211.8 1806.7 450 1808.2 617.8 1809.4 420 1810.7 223.3 1812 400 1813.3 480 1814.5 420 1815.8 573 1817.1 400 1818.4 238.5 1819.9 420 1821.4 497 1822.7 400 1824 312.3 1825 400 1826 437 1828 400 1830 373 1831.3 400 1832.6 418 1834.7 380 1836.7 343 1838.7 400 1840.8 432 1843.2 400 1845.6 376 1847.3 385 1849 391 1851.5 405 1854 416.7 1855.9 400 1857.8 386 1860.3 410 1861.6 421 1862.9 432 1864.2 416 1865.5 400 1868 371 1870.5 320 1871.7 450 1873 556.7 1874 400 1874.9 290.7 1876.5 330 1878.2 327.6 1879.2 420 1880.2 491.8 1882.6 350 1885 241 1886.3 400 1887.6 472.7 1889.6 420 1891.7 381 1893.2 390 1894.7 368 1896.2 390 1897.8 411.6 1900 380 1902.3 360.7 1903.4 370.5 1904.4 390.2 1905.5 400 1906.6 407.3 1907.6 422 1908.7 429.4 1911.2 410 1912.5 401.9 1913.8 393.8 1914.9 395.4 1915.9 398.4 1917 400 1918.1 403.5 1919.1 410.5 1920.2 414 1922.1 405 1924 399 1925 404.2 1926 414.8 1927 420 1928.1 424.2 1929.2 432.8 1930.3 437 1931.4 430.2 1932.4 416.8 1933.5 410 1934.6 404 1935.6 392 1936.7 386 1937.7 389 1938.7 397.3 1939.7 408.6 1940.7 420 1941.7 428.3 1942.7 431.3 1943.8 427.1 1944.9 416.1 1945.9 402.5 1947 391.5 1948.1 387.3 1949.1 389 1950.1 393.5 1951.1 399.6 1952.1 405.8 1953.1 410.3 1954.1 412 1955.1 407.6 1956.2 396.9 1957.2 386.3 1958.3 381.9 1959.3 383.3 1960.3 387 1961.3 392.1 1962.4 397.3 1963.4 401 1964.4 402.4 1965.6 396.6 1966.8 382.5 1968 368.4 1969.2 362.6 1970.2 365.6 1971.3 374.2 1972.3 386.5 1973.3 400.1 1974.3 412.4 1975.4 421 1976.4 424 1977.5 419.6 1978.6 408 1979.7 393.6 1980.8 382 1981.9 377.6 1982.9 379.8 1983.9 385.8 1984.9 393.9 1985.9 402.1 1986.9 408 1987.9 410.2 1988.9 405.5 1989.9 396.2 1990.9 391.5 1991.9 393.8 1993 400.1 1994 409.3 1995 419.5 1996 428.7 1997.1 435 1998.1 437.3 1999.2 432 2000.3 418.2 2001.4 401 2002.5 387.2 2003.6 381.9 2004.7 384.7 2005.8 392.4 2006.9 402.9 2008 413.5 2009.1 421.2 2010.2 424 2011.4 420.7 2012.6 412.6 2013.8 404.5 2015 401.2 2016.1 402.6 2017.2 406.2 2018.2 410.6 2019.3 414.2 2020.4 415.6 2021.6 408.3 2022.8 390.6 2024.1 372.9 2025.3 365.6 2026.3 367.5 2027.4 373 2028.4 380.8 2029.4 389.6 2030.4 397.4 2031.5 402.9 2032.5 404.8 2035 395 2037 383.6 2039.3 440 2041.7 487.7 2043 300 2044.2 184 2045.4 450 2046.6 682 2048.5 400 2050.4 140.8 2052 450 2053.5 725 2055.2 400 2057 175.5 2058.7 450 2060.5 696 2061.8 400 2063.2 220.6 2064.3 400 2065.3 496 2066.3 400 2067.4 340 2069.2 400 2071 425 2073.2 390 2075.4 352 2077.1 400 2078.9 444 2080.6 400 2082.3 373 2084 400 2085.8 415 2086.8 406.2 2087.8 388.8 2088.8 380 2090.2 367 2091.7 354 2092.8 365.5 2094 388.5 2095.1 400 2096.3 404.5 2097.4 413.5 2098.6 418 2099.7 414.9 2100.7 406.2 2101.8 394.5 2102.8 382.8 2103.8 374.1 2104.9 371 2106 372.7 2107.1 377 2108.1 382.5 2109.2 386.8 2110.3 388.5 2111.5 385.9 2112.7 379.8 2113.9 373.6 2115.1 371 2116.2 373.7 2117.3 380.9 2118.4 390.9 2119.6 400.9 2120.7 408.1 2121.8 410.8 2123 405 2124.2 390.9 2125.4 376.8 2126.6 371 2127.6 373.2 2128.6 379.1 2129.6 387.3 2130.6 395.4 2131.6 401.4 2132.6 403.6 2133.7 399 2134.7 387.9 2135.8 376.8 2136.8 372.2 2137.9 374.2 2139.1 379.9 2140.2 388.1 2141.3 397.3 2142.4 405.5 2143.6 411.2 2144.7 413.2 2145.8 408.3 2146.8 396.3 2147.8 384.3 2148.9 379.4 2149.9 381.3 2150.9 386.3 2151.9 393.3 2152.9 400.2 2153.9 405.3 2154.9 407.2 2156.1 402.1 2157.3 389.7 2158.5 377.3 2159.7 372.2 2160.7 374.1 2161.8 379.2 2162.8 386.7 2163.9 395.1 2164.9 402.6 2166 407.7 2167 409.6 2168.2 404.3 2169.4 391.5 2170.6 378.7 2171.8 373.4 2172.8 375.3 2173.8 380.6 2174.8 387.9 2175.8 395.1 2176.8 400.5 2177.8 402.4 2180 395 2181 384.5 2182 363.5 2183 353 2184.2 420 2185.5 474.7 2186.3 350 2187.2 219.4 2188.8 450 2190.4 621 2192 400 2193.5 223 2195.6 450 2197.7 591.3 2199.1 400 2200.6 259.5 2202 400 2203.3 489 2204.5 400 2205.7 328.8 2207.1 400 2208.6 440.6 2210.5 400 2212.3 375 2213.8 390 2215.4 404 2217.1 380 2218.8 358 2220.8 390 2222.7 418.8 2224.7 380 2226.8 350.7 2228.6 370 2230.5 382 2231.9 378.5 2233.4 375 2234.8 377.5 2236.2 380 2237.6 373.2 2239 366.5 2240.4 378.2 2241.8 390 2243.2 399.5 2244.6 409 2245.6 401.2 2246.6 382.3 2247.7 363.4 2248.7 355.6 2249.8 349.8 2250.8 338.3 2251.9 332.5 2253.3 450 2254.8 564.6 2256.2 400 2257.7 277.8 2258.7 320 2259.7 310.6 2261.1 420 2262.6 502.6 2264.8 380 2267 271.7 2268.8 400 2270.6 482 2271.5 420 2272.3 378.7 2274.2 390 2276.2 401.7 2277.6 410 2279.1 418.8 2280.4 404.4 2281.8 390 2283.2 382.5 2284.5 375 2285.8 387.5 2287.2 400 2288.6 409.4 2290 418.8 2292.5 400 2295 387 2296.4 391 2297.8 395 2299.2 399.5 2300.5 404 2301.8 392 2303.1 380 2304.4 372.7 2305.8 365.3 2306.8 374 2307.9 391.3 2308.9 400 2309.9 404.7 2311 414.1 2312 418.8 2313 414.1 2314 404.7 2315 400 2316 396.2 2317 388.5 2318 384.7 2319.3 389.8 2320.6 395 2321.9 399.5 2323.3 404 2325.5 390 2327.7 375 2328.7 381.2 2329.7 393.8 2330.7 400 2331.7 407.8 2332.8 423.2 2333.8 431 2335.2 420.5 2336.6 410 2338 401.5 2339.4 393 2340.7 396.5 2342 400 2343.3 407 2344.7 414 2347.1 395 2349.6 377.4 2350.8 383 2352.1 394.3 2353.3 400 2354.5 407.8 2355.8 423.2 2357 431 2358 424.5 2359 411.5 2360 405 2361 398.8 2362 386.2 2363 380 2364.4 385 2365.8 390 2367.2 397 2368.6 404 2371 385 2373.4 365.3 2374.7 370.1 2376 375 2378 370" fill="none" stroke="#0000ff" stroke-width="3.4" stroke-linejoin="round"/>
<path d="M1428 381 1430 412 1432 215.1 1434 523.4 1436 286.1 1438 452.6 1440 285.6 1442 525.1 1444 311.7 1446 454.6 1448 344.7 1450 455.5 1452 362.7 1454 417.1 1456 370.5 1458 415.2 1460 373" fill="none" stroke="#0000ff" stroke-width="2.8" stroke-linejoin="round"/>
<path d="M1496 339.7 1498 467.8 1500 381.7 1502 481.5 1504 326.9 1506 499.3 1508 378 1510 439.3 1512 306.8 1514 448" fill="none" stroke="#0000ff" stroke-width="2.8" stroke-linejoin="round"/>
<path d="M1657 374.6 1659 439 1661 289.9 1663 438.2 1665 217.8 1667 470.8 1669 213 1671 471.7 1673 279.4 1675 502.7 1677 233 1679 596 1681 209.7 1683 460.2 1685 357.3" fill="none" stroke="#0000ff" stroke-width="2.8" stroke-linejoin="round"/>
<path d="M1801 360.9 1803 444.9 1805 259.1 1807 465.3 1809 292.3 1811 421.4 1813 271.1 1815 441 1817 291 1819 445.1 1821 291.2 1823 439.4 1825 356.3" fill="none" stroke="#0000ff" stroke-width="2.8" stroke-linejoin="round"/>
<path d="M1872 319.9 1874 513.5 1876 333.7 1878 425.4 1880 358.2 1882 467.4 1884 305.7 1886 436.5 1888 343.3" fill="none" stroke="#0000ff" stroke-width="2.8" stroke-linejoin="round"/>
<path d="M2040 349.7 2042 452.3 2044 238.5 2046 545.6 2048 246.6 2050 508.8 2052 239.2 2054 566.7 2056 251.3 2058 468.7 2060 284.5 2062 577.1 2064 297.9 2066 447.4" fill="none" stroke="#0000ff" stroke-width="2.8" stroke-linejoin="round"/>
<path d="M2184 361.3 2186 460.4 2188 306.3 2190 555.7 2192 251.8 2194 451.2 2196 264.1 2198 551.8 2200 315.3 2202 499.6 2204 337.4 2206 442.2 2208 356.8" fill="none" stroke="#0000ff" stroke-width="2.8" stroke-linejoin="round"/>
<path d="M2252 357 2254 474.5 2256 305.1 2258 468.4 2260 339.3 2262 441.5 2264 380.6 2266 483.9 2268 312.3 2270 448.1 2272 378.5" fill="none" stroke="#0000ff" stroke-width="2.8" stroke-linejoin="round"/>
<path d="M170.1 1221.2 C171 1235.7 173.6 1301.9 175.4 1308 C177.2 1314.1 179.6 1270.7 181.2 1258 C182.8 1245.3 183.5 1235.6 184.7 1231.6 C185.8 1227.6 186.8 1232.5 188.1 1234 C189.4 1235.5 191.2 1244.2 192.3 1240.9 C193.4 1237.6 193.4 1220.8 194.6 1214 C195.8 1207.2 198.3 1207.3 199.7 1200.4 C201.1 1193.5 201.8 1184.9 203.2 1172.6 C204.5 1160.2 206 1137.9 207.8 1126.3 C209.6 1114.7 212.3 1104.9 214 1103 C215.7 1101.1 216.5 1105.2 218.2 1114.7 C219.9 1124.2 221.9 1158.4 224 1159.9 C226.1 1161.5 228.6 1124.4 231 1124 C233.4 1123.6 236.2 1156.3 238.6 1157.5 C241 1158.7 243.8 1133.9 245.6 1131 C247.4 1128.1 247.7 1128.4 249.5 1140 C251.3 1151.6 253.9 1181.1 256.4 1200.4 C258.9 1219.7 262.4 1237.5 264.5 1256 C266.6 1274.5 267.4 1300.7 269.2 1311.5 C270.9 1322.3 272.7 1312 275 1320.7 C277.3 1329.4 280.5 1364.4 283 1363.6 C285.5 1362.8 288 1325.1 290 1316 C292 1306.9 293.3 1307.8 295 1309 C296.7 1310.2 298.5 1307.5 300.4 1323 C302.3 1338.5 304.1 1391 306.2 1401.8 C308.3 1412.6 311 1388.5 313.1 1387.9 C315.2 1387.3 316.5 1400 319 1398.3 C321.5 1396.6 325.3 1375.8 328.2 1377.5 C331.1 1379.2 334 1398.9 336.3 1408.7 C338.6 1418.5 340.3 1427 342 1436.5 C343.7 1446 344.9 1461.6 346.7 1465.4 C348.4 1469.2 350.2 1464.2 352.5 1459.6 C354.8 1455 357.9 1439.9 360.6 1437.6 C363.3 1435.3 366.4 1442.2 368.7 1445.7 C371 1449.2 372.9 1455.2 374.6 1458.3 C376.4 1461.4 377.8 1460.8 379.2 1464.4 C380.6 1468 381.4 1477.9 383 1479.7 C384.6 1481.5 387.2 1474.8 389.1 1475.1 C391 1475.3 392.7 1481.3 394.5 1481.2 C396.3 1481.1 398.2 1474.9 399.8 1474.3 C401.4 1473.7 403 1477.7 404.4 1477.4 C405.8 1477.2 406.8 1472.4 408.3 1472.8 C409.8 1473.2 411.8 1479.3 413.6 1479.7 C415.4 1480.1 417.3 1473.9 419 1475.1 C420.7 1476.2 421.1 1484.6 423.6 1486.6 C426.2 1488.6 431.2 1486.8 434.3 1487.3 C437.4 1487.8 439.6 1489.8 442 1489.6 C444.4 1489.3 446.3 1485.8 448.8 1485.8 C451.3 1485.8 454.3 1487.8 457.2 1489.6 C460.1 1491.4 463.1 1496 466.4 1496.5 C469.7 1497 473.8 1493.5 477.1 1492.7 C480.4 1491.9 483.7 1491.5 486.3 1491.9 C488.9 1492.3 489.7 1494.1 492.5 1495 C495.3 1495.9 500.5 1496.3 503.2 1497.3 C505.9 1498.3 506.6 1501.2 508.5 1501.1 C510.4 1501 512.6 1496.6 514.6 1496.5 C516.6 1496.4 518.8 1500.7 520.8 1500.4 C522.8 1500.2 524.7 1495.1 526.9 1495 C529.1 1494.9 531.8 1499.1 533.8 1499.6 C535.8 1500.1 537.3 1497.6 539.1 1498 C540.9 1498.4 542.3 1501.1 544.5 1501.9 C546.7 1502.7 550 1502.1 552.2 1502.7 C554.4 1503.3 555.5 1506.1 557.5 1505.7 C559.5 1505.3 561.5 1501.4 564.4 1500.4 C567.3 1499.4 572 1499.1 575.1 1499.6 C578.2 1500.1 580.8 1503.2 582.8 1503.4 C584.8 1503.7 585.8 1500.5 587.4 1501.1 C589 1501.7 589.9 1506.4 592.7 1507.2 C595.5 1508 601.4 1505.2 604.2 1505.7 C607 1506.2 607.3 1510.9 609.6 1510.3 C611.9 1509.7 615.5 1502.4 618 1501.9 C620.5 1501.4 622.4 1505.7 624.9 1507.2 C627.4 1508.7 630.8 1511 633.3 1511.1 C635.8 1511.2 638.3 1508 640.2 1508 C642.1 1508 643.3 1511.2 644.8 1511.1 C646.3 1511 647.8 1506.8 649.4 1507.2 C651 1507.6 652.8 1512.8 654.7 1513.4 C656.6 1514.1 658.8 1511.2 660.8 1511.1 C662.8 1511 665.3 1513 667 1512.6 C668.7 1512.2 669.7 1509.2 670.8 1508.8 C671.9 1508.4 672.4 1510.9 673.8 1510.3 C675.2 1509.7 677.3 1504.9 679.2 1505 C681.1 1505.1 683.3 1509.3 685.3 1511.1 C687.3 1512.9 688.9 1515.3 691.4 1515.7 C693.9 1516.1 697.4 1513.3 700.3 1513.5 C703.2 1513.7 706.3 1515.5 708.7 1517.1 C711.1 1518.7 712.9 1523 714.7 1523.2 C716.5 1523.4 717.4 1519.1 719.5 1518.3 C721.6 1517.5 725.3 1517.6 727.4 1518.3 C729.5 1519 730.5 1522.2 732.2 1522.6 C733.9 1523 736 1520.5 737.6 1520.8 C739.2 1521.1 740.5 1524.4 741.9 1524.4 C743.3 1524.5 744.1 1520.8 746.1 1521.1 C748.1 1521.4 751.6 1525.2 753.9 1526.2 C756.2 1527.2 757.3 1527.2 760 1526.8 C762.7 1526.4 767.4 1523.5 770.2 1523.8 C773 1524.1 774.8 1528.5 776.8 1528.6 C778.8 1528.7 780.3 1524.2 782.3 1524.4 C784.3 1524.6 787.2 1528.9 788.9 1529.8 C790.6 1530.7 791 1528.7 792.5 1529.8 C794 1530.9 796 1536.4 797.9 1536.4 C799.8 1536.4 802.2 1530.1 804 1529.8 C805.8 1529.5 807.3 1534.5 808.8 1534.6 C810.3 1534.7 811.2 1530.3 813 1530.4 C814.8 1530.5 817.3 1535.2 819.6 1535.2 C821.9 1535.2 824.4 1530.3 826.9 1530.4 C829.4 1530.5 832.1 1534 834.7 1535.8 C837.3 1537.6 839.8 1540.4 842.6 1541.3 C845.4 1542.2 849.8 1541.1 851.6 1541.3 C853.4 1541.5 852.1 1543 853.4 1542.5 C854.7 1542 857.7 1538.6 859.4 1538.2 C861.1 1537.8 862.2 1538.4 863.7 1540 C865.2 1541.6 866.7 1548.7 868.5 1547.9 C870.3 1547.1 872.1 1535.6 874.5 1535.2 C876.9 1534.8 880.4 1544.5 883 1545.5 C885.6 1546.5 887.8 1541.5 890.2 1541.3 C892.6 1541.1 895.4 1543.7 897.4 1544.3 C899.4 1544.9 900.6 1543.9 902.3 1544.9 C904 1545.9 905.7 1549.7 907.7 1550.3 C909.7 1550.9 912.3 1549.3 914.3 1548.5 C916.3 1547.7 917.6 1544.8 919.7 1545.5 C921.8 1546.2 925 1552.1 927 1552.7 C929 1553.3 930 1548.5 931.8 1549.1 C933.6 1549.7 935.6 1555.7 937.8 1556.3 C939.9 1556.9 942.3 1552 944.7 1552.5 C947.1 1553 950 1559.4 952.4 1559 C954.8 1558.6 956.5 1551 958.9 1550.1 C961.3 1549.2 964 1551.3 966.6 1553.7 C969.2 1556.1 971.8 1563.4 974.3 1564.3 C976.8 1565.2 978.8 1559.9 981.4 1559 C984 1558.1 987.4 1557.8 989.7 1559 C992 1560.2 993.1 1565.9 995 1566.1 C996.9 1566.3 999 1560.5 1000.9 1560.2 C1002.8 1559.9 1003.9 1562.9 1006.2 1564.3 C1008.5 1565.7 1011.8 1569.4 1014.5 1568.4 C1017.2 1567.4 1020 1559.5 1022.2 1558.4 C1024.4 1557.3 1025.8 1560.1 1027.5 1561.9 C1029.2 1563.7 1030.5 1567.9 1032.3 1569 C1034.1 1570.1 1036.3 1568 1038.2 1568.4 C1040.1 1568.8 1041.6 1571 1043.5 1571.4 C1045.4 1571.8 1047.6 1571.5 1049.4 1570.8 C1051.2 1570.1 1051.8 1566 1054.1 1567.3 C1056.4 1568.6 1060.7 1577 1063 1578.5 C1065.3 1580 1066.3 1576.1 1067.7 1576.1 C1069.1 1576.1 1069.7 1579 1071.3 1578.5 C1072.9 1578 1075.4 1573.3 1077.2 1573.2 C1079 1573.1 1080.3 1577.7 1081.9 1577.9 C1083.5 1578.1 1085.2 1574.4 1086.7 1574.4 C1088.2 1574.4 1089.6 1577.8 1090.8 1577.9 C1092 1578 1092.1 1575.4 1093.8 1574.9 C1095.5 1574.4 1098.7 1572.4 1100.9 1574.9 C1103.1 1577.4 1104.2 1588.4 1106.8 1589.7 C1109.4 1591 1113.2 1583.7 1116.8 1582.6 C1120.4 1581.5 1124.8 1581.5 1128.6 1583.2 C1132.3 1584.9 1136.5 1591.9 1139.3 1592.7 C1142.1 1593.5 1143.1 1588.5 1145.2 1588 C1147.3 1587.5 1149.5 1588.5 1151.7 1589.7 C1153.9 1590.9 1156 1595.5 1158.2 1595 C1160.4 1594.5 1162 1587.4 1164.7 1586.8 C1167.4 1586.2 1171.5 1591.3 1174.2 1591.5 C1176.9 1591.7 1178.3 1587.6 1180.7 1588 C1183.1 1588.4 1187.1 1592.9 1188.4 1593.9" fill="none" stroke="#ff0000" stroke-width="3.2" stroke-linejoin="round"/>
<path d="M1370.1 1197.2 C1370.7 1201.5 1372.4 1206.1 1373.8 1222.7 C1375.2 1239.3 1376.7 1296.2 1378.4 1296.8 C1380.1 1297.3 1382.2 1233.5 1384 1226 C1385.8 1218.5 1387.5 1260.1 1389.3 1251.6 C1391.1 1243.1 1393.4 1187.7 1395.1 1175.2 C1396.8 1162.7 1398.3 1180.8 1399.7 1176.4 C1401.1 1172 1401.9 1154.8 1403.2 1148.6 C1404.5 1142.4 1406.1 1143.5 1407.8 1139.4 C1409.5 1135.4 1411.9 1124.3 1413.6 1124.3 C1415.3 1124.3 1416.1 1125.7 1417.8 1139.4 C1419.5 1153.1 1421.8 1200 1424 1206.5 C1426.2 1213 1428.7 1177.7 1431 1178.7 C1433.3 1179.7 1435.7 1209.6 1437.9 1212.3 C1440.1 1215 1442.5 1196.3 1444.2 1194.9 C1445.9 1193.5 1446.8 1196.7 1448.3 1204 C1449.8 1211.3 1451.5 1225.4 1453 1238.9 C1454.5 1252.4 1455.7 1271.3 1457.6 1285.2 C1459.5 1299.1 1462.4 1308.7 1464.5 1322.2 C1466.6 1335.7 1468.4 1363.9 1470.3 1366.2 C1472.2 1368.5 1474 1342.4 1476.1 1336 C1478.2 1329.6 1480.7 1327.6 1483 1328 C1485.3 1328.4 1487.7 1330.1 1490 1338.4 C1492.3 1346.7 1495.1 1363.5 1497 1377.8 C1498.9 1392.1 1499.9 1402 1501.6 1424 C1503.3 1446 1505.5 1498.4 1507.3 1509.7 C1509.1 1521 1510.5 1494.4 1512.2 1491.8 C1514 1489.2 1516.3 1496.7 1517.8 1494.3 C1519.3 1491.9 1520 1482.2 1521.1 1477.2 C1522.2 1472.2 1522.7 1469.8 1524.3 1464.3 C1525.9 1458.8 1528.5 1442.7 1530.8 1444 C1533.1 1445.3 1536.3 1462.8 1538.1 1472.4 C1539.8 1482 1540.1 1488.9 1541.3 1501.6 C1542.5 1514.3 1544.2 1544 1545.4 1548.6 C1546.6 1553.2 1547.2 1534.8 1548.6 1529.1 C1549.9 1523.4 1551.7 1514.2 1553.5 1514.5 C1555.3 1514.8 1557.2 1525.7 1559.2 1530.7 C1561.2 1535.7 1563.4 1542.3 1565.6 1544.5 C1567.8 1546.7 1570.1 1542 1572.1 1543.7 C1574.1 1545.5 1575.6 1548.1 1577.8 1555 C1580 1561.9 1582.8 1582 1585.1 1585 C1587.4 1588 1589.7 1579.8 1591.6 1572.9 C1593.5 1566 1594.8 1546.8 1596.4 1543.7 C1598 1540.6 1599 1553 1601.3 1554.2 C1603.6 1555.4 1607.6 1548.6 1610.2 1551 C1612.8 1553.4 1614.8 1571.2 1616.7 1568.8 C1618.7 1566.4 1620.1 1535.9 1621.9 1536.4 C1623.7 1536.9 1625.9 1567.3 1627.7 1572 C1629.5 1576.7 1630.7 1567.1 1632.9 1564.8 C1635.1 1562.5 1638.6 1565.2 1641 1558.3 C1643.4 1551.4 1645.3 1523 1647.2 1523.4 C1649.1 1523.8 1650.6 1554.4 1652.4 1560.7 C1654.2 1567 1656 1559.5 1658 1561.5 C1660 1563.5 1663 1572.1 1664.5 1572.9 C1666 1573.7 1665.6 1580.5 1666.9 1566.4 C1668.2 1552.4 1670.7 1486.7 1672.6 1488.6 C1674.5 1490.5 1676.4 1562 1678.3 1577.7 C1680.2 1593.4 1681.7 1584.5 1684 1582.6 C1686.3 1580.7 1689.7 1578.3 1692 1566.4 C1694.3 1554.5 1695.7 1507.5 1697.7 1511.3 C1699.7 1515.1 1702.3 1576.3 1704.2 1589 C1706.1 1601.7 1707 1586 1709 1587.5 C1711 1589 1714.1 1606.8 1716.4 1598 C1718.7 1589.2 1720.9 1535.5 1722.9 1534.8 C1724.9 1534.1 1726.8 1584.1 1728.5 1594 C1730.2 1603.9 1731.8 1600 1733.4 1594 C1735 1588 1736.5 1558.7 1738.2 1558.3 C1740 1557.9 1742.3 1587.5 1743.9 1591.5 C1745.5 1595.5 1746.2 1581.2 1748 1582.6 C1749.8 1583.9 1752 1597.9 1754.5 1599.6 C1757 1601.3 1758.1 1593 1763.3 1593 C1768.5 1593 1780.7 1599.2 1785.5 1599.4 C1790.3 1599.6 1790.1 1593.7 1792 1593.9 C1793.9 1594.1 1794.7 1598.9 1796.7 1600.4 C1798.7 1601.9 1800.6 1602.7 1804 1603 C1807.4 1603.3 1813.7 1604.9 1817 1602 C1820.3 1599.1 1821.4 1586.1 1823.6 1585.5 C1825.8 1584.9 1827.8 1597.1 1830 1598.5 C1832.2 1599.9 1834.5 1593.6 1836.5 1593.9 C1838.5 1594.2 1840 1600.6 1842 1600.4 C1844 1600.2 1846.6 1593.3 1848.6 1593 C1850.6 1592.7 1851.4 1597.3 1854.2 1598.5 C1857 1599.7 1862 1603.3 1865.3 1600.4 C1868.5 1597.5 1871.4 1580.1 1873.7 1581 C1876 1581.9 1876.9 1602.8 1879.2 1606 C1881.5 1609.2 1885 1600.4 1887.6 1600.4 C1890.2 1600.4 1890.4 1606.8 1895 1606 C1899.6 1605.2 1910.8 1602.5 1915.4 1595.7 C1920 1588.9 1920.1 1563.1 1922.4 1565.1 C1924.7 1567.1 1925 1600.5 1929.3 1607.8 C1933.5 1615.1 1943.9 1606.8 1947.9 1608.7 C1951.9 1610.6 1949.7 1619.1 1953.4 1618.9 C1957.1 1618.8 1965.6 1608.4 1970.1 1607.8 C1974.6 1607.2 1976.8 1615.1 1980.3 1615.2 C1983.8 1615.3 1988.5 1608.5 1991.4 1608.5 C1994.4 1608.5 1995.6 1614.5 1998 1615.1 C2000.4 1615.7 2003.3 1612.3 2005.7 1612.3 C2008.1 1612.3 2010.1 1613.7 2012.3 1615.1 C2014.5 1616.5 2016.6 1621.3 2019 1620.8 C2021.4 1620.3 2024.4 1613.6 2026.6 1612.3 C2028.8 1611 2030.4 1611.9 2032.3 1613.2 C2034.2 1614.5 2035.2 1619.9 2038 1619.9 C2040.8 1619.9 2045.4 1613.7 2049.4 1613.2 C2053.4 1612.7 2058.5 1615.5 2061.8 1617 C2065.1 1618.5 2067.2 1622.2 2069.4 1622.4 C2071.6 1622.6 2071.5 1618.6 2075 1618 C2078.5 1617.4 2086.3 1619.5 2090.3 1619 C2094.3 1618.5 2096.3 1618.3 2098.8 1615.1 C2101.3 1611.9 2103.4 1599 2105.5 1600 C2107.6 1601 2108.8 1616.8 2111.2 1620.8 C2113.6 1624.8 2116.5 1624.4 2119.8 1623.7 C2123.1 1623 2127.6 1617.2 2131.2 1616.7 C2134.8 1616.2 2138.6 1620 2141.6 1620.8 C2144.6 1621.6 2146.8 1620.8 2149.2 1621.8 C2151.6 1622.8 2153.7 1626.9 2155.9 1626.6 C2158.1 1626.3 2160.6 1620.8 2162.5 1620 C2164.4 1619.2 2165.4 1621.9 2167.3 1621.8 C2169.2 1621.7 2171.5 1618.7 2173.9 1619.3 C2176.3 1619.9 2179.5 1625.2 2181.6 1625.6 C2183.7 1626 2184.6 1621 2186.3 1621.8 C2188 1622.6 2189.9 1629.8 2192 1630.4 C2194.1 1631 2196 1627 2198.7 1625.6 C2201.4 1624.2 2204.9 1622.6 2208.2 1621.8 C2211.5 1621 2215.8 1620 2218.6 1620.5 C2221.4 1621 2222.9 1624.2 2225.3 1624.7 C2227.7 1625.2 2230.7 1623.2 2232.9 1623.7 C2235.1 1624.2 2236.8 1627.5 2238.6 1627.5 C2240.3 1627.5 2241.2 1623.1 2243.4 1623.7 C2245.6 1624.3 2248.9 1629.9 2251.9 1631.3 C2254.9 1632.7 2259 1632.5 2261.4 1631.9 C2263.8 1631.3 2264 1627.4 2266.2 1627.5 C2268.4 1627.6 2271.7 1632.6 2274.7 1632.6 C2277.7 1632.6 2281.7 1631.2 2284.2 1627.5 C2286.7 1623.8 2288 1610.7 2289.9 1610.4 C2291.8 1610.1 2293.4 1622.2 2295.6 1625.6 C2297.8 1629 2301.2 1630.8 2303.3 1630.7 C2305.4 1630.6 2306.3 1624.5 2308 1624.7 C2309.7 1624.9 2311.3 1631.4 2313.7 1631.9 C2316.1 1632.4 2319 1627.8 2322.3 1627.5 C2325.6 1627.2 2330.7 1628.7 2333.7 1630 C2336.7 1631.3 2337.9 1634.2 2340.3 1635.1 C2342.7 1635.9 2345.5 1635.6 2347.9 1635.1 C2350.3 1634.6 2352.1 1632.6 2354.6 1632.3 C2357.1 1632 2360.7 1633.8 2363.1 1633.2 C2365.5 1632.6 2366.8 1628.2 2368.9 1628.8 C2371 1629.4 2374 1635.5 2375.5 1637 C2377 1638.5 2377.6 1637.8 2378 1638" fill="none" stroke="#0000ff" stroke-width="3.4" stroke-linejoin="round"/>
<path d="M529.9 377.2 H593 V616.3 H529.9 Z" fill="none" stroke="#000" stroke-width="3.6" stroke-dasharray="35 16"/>
<path d="M1001.4 377.2 H1067 V616.3 H1001.4 Z" fill="none" stroke="#000" stroke-width="3.6" stroke-dasharray="35 16"/>
<path d="M1854.8 229.6 H1915.6 V559.2 H1854.8 Z" fill="none" stroke="#000" stroke-width="3.6" stroke-dasharray="35 16"/>
<path d="M2232.4 258.3 H2293.2 V559.3 H2232.4 Z" fill="none" stroke="#000" stroke-width="3.6" stroke-dasharray="35 16"/>
<ellipse cx="261.6" cy="1149.8" rx="62" ry="49.4" fill="none" stroke="#222" stroke-width="3" stroke-dasharray="12 10"/>
<ellipse cx="560.7" cy="1488.8" rx="132.4" ry="93.1" fill="none" stroke="#222" stroke-width="3" stroke-dasharray="12 10"/>
<ellipse cx="1462.2" cy="1185.6" rx="62.5" ry="49.8" fill="none" stroke="#222" stroke-width="3" stroke-dasharray="12 10"/>
<ellipse cx="1763.7" cy="1543.3" rx="130.3" ry="93.2" fill="none" stroke="#222" stroke-width="3" stroke-dasharray="12 10"/>
<rect x="171.5" y="41" width="1008" height="813" fill="none" stroke="#444" stroke-width="4"/>
<rect x="1367" y="41" width="1011" height="813" fill="none" stroke="#444" stroke-width="4"/>
<rect x="170.3" y="994.1" width="1018.7" height="820.6" fill="none" stroke="#444" stroke-width="4"/>
<rect x="1370.4" y="996" width="1008.1" height="812" fill="none" stroke="#444" stroke-width="4"/>
<line x1="243.5" y1="854" x2="243.5" y2="845" stroke="#444" stroke-width="4"/>
<line x1="315.5" y1="854" x2="315.5" y2="838" stroke="#444" stroke-width="4"/>
<line x1="387.5" y1="854" x2="387.5" y2="845" stroke="#444" stroke-width="4"/>
<line x1="459.5" y1="854" x2="459.5" y2="838" stroke="#444" stroke-width="4"/>
<line x1="531.5" y1="854" x2="531.5" y2="845" stroke="#444" stroke-width="4"/>
<line x1="603.5" y1="854" x2="603.5" y2="838" stroke="#444" stroke-width="4"/>
<line x1="675.5" y1="854" x2="675.5" y2="845" stroke="#444" stroke-width="4"/>
<line x1="747.5" y1="854" x2="747.5" y2="838" stroke="#444" stroke-width="4"/>
<line x1="819.5" y1="854" x2="819.5" y2="845" stroke="#444" stroke-width="4"/>
<line x1="891.5" y1="854" x2="891.5" y2="838" stroke="#444" stroke-width="4"/>
<line x1="963.5" y1="854" x2="963.5" y2="845" stroke="#444" stroke-width="4"/>
<line x1="1035.5" y1="854" x2="1035.5" y2="838" stroke="#444" stroke-width="4"/>
<line x1="1107.5" y1="854" x2="1107.5" y2="845" stroke="#444" stroke-width="4"/>
<line x1="171.5" y1="737.9" x2="187.5" y2="737.9" stroke="#444" stroke-width="4"/>
<line x1="171.5" y1="621.7" x2="180.5" y2="621.7" stroke="#444" stroke-width="4"/>
<line x1="171.5" y1="505.6" x2="187.5" y2="505.6" stroke="#444" stroke-width="4"/>
<line x1="171.5" y1="389.4" x2="180.5" y2="389.4" stroke="#444" stroke-width="4"/>
<line x1="171.5" y1="273.3" x2="187.5" y2="273.3" stroke="#444" stroke-width="4"/>
<line x1="171.5" y1="157.1" x2="180.5" y2="157.1" stroke="#444" stroke-width="4"/>
<line x1="1423.2" y1="854" x2="1423.2" y2="838" stroke="#444" stroke-width="4"/>
<line x1="1479.3" y1="854" x2="1479.3" y2="845" stroke="#444" stroke-width="4"/>
<line x1="1535.5" y1="854" x2="1535.5" y2="838" stroke="#444" stroke-width="4"/>
<line x1="1591.7" y1="854" x2="1591.7" y2="845" stroke="#444" stroke-width="4"/>
<line x1="1647.8" y1="854" x2="1647.8" y2="838" stroke="#444" stroke-width="4"/>
<line x1="1704" y1="854" x2="1704" y2="845" stroke="#444" stroke-width="4"/>
<line x1="1760.2" y1="854" x2="1760.2" y2="838" stroke="#444" stroke-width="4"/>
<line x1="1816.3" y1="854" x2="1816.3" y2="845" stroke="#444" stroke-width="4"/>
<line x1="1872.5" y1="854" x2="1872.5" y2="838" stroke="#444" stroke-width="4"/>
<line x1="1928.7" y1="854" x2="1928.7" y2="845" stroke="#444" stroke-width="4"/>
<line x1="1984.8" y1="854" x2="1984.8" y2="838" stroke="#444" stroke-width="4"/>
<line x1="2041" y1="854" x2="2041" y2="845" stroke="#444" stroke-width="4"/>
<line x1="2097.2" y1="854" x2="2097.2" y2="838" stroke="#444" stroke-width="4"/>
<line x1="2153.3" y1="854" x2="2153.3" y2="845" stroke="#444" stroke-width="4"/>
<line x1="2209.5" y1="854" x2="2209.5" y2="838" stroke="#444" stroke-width="4"/>
<line x1="2265.7" y1="854" x2="2265.7" y2="845" stroke="#444" stroke-width="4"/>
<line x1="2321.8" y1="854" x2="2321.8" y2="838" stroke="#444" stroke-width="4"/>
<line x1="1367" y1="737.9" x2="1376" y2="737.9" stroke="#444" stroke-width="4"/>
<line x1="1367" y1="621.7" x2="1383" y2="621.7" stroke="#444" stroke-width="4"/>
<line x1="1367" y1="505.6" x2="1376" y2="505.6" stroke="#444" stroke-width="4"/>
<line x1="1367" y1="389.4" x2="1383" y2="389.4" stroke="#444" stroke-width="4"/>
<line x1="1367" y1="273.3" x2="1376" y2="273.3" stroke="#444" stroke-width="4"/>
<line x1="1367" y1="157.1" x2="1383" y2="157.1" stroke="#444" stroke-width="4"/>
<line x1="425" y1="1814.7" x2="425" y2="1806.1" stroke="#444" stroke-width="4"/>
<line x1="1622.4" y1="1808" x2="1622.4" y2="1799.4" stroke="#444" stroke-width="4"/>
<line x1="679.7" y1="1814.7" x2="679.7" y2="1798.7" stroke="#444" stroke-width="4"/>
<line x1="1874.5" y1="1808" x2="1874.5" y2="1792" stroke="#444" stroke-width="4"/>
<line x1="934.3" y1="1814.7" x2="934.3" y2="1806.1" stroke="#444" stroke-width="4"/>
<line x1="2126.5" y1="1808" x2="2126.5" y2="1799.4" stroke="#444" stroke-width="4"/>
<line x1="170.3" y1="1068.7" x2="177.9" y2="1068.7" stroke="#444" stroke-width="4"/>
<line x1="1370.4" y1="1069.8" x2="1378" y2="1069.8" stroke="#444" stroke-width="4"/>
<line x1="170.3" y1="1143.3" x2="185.3" y2="1143.3" stroke="#444" stroke-width="4"/>
<line x1="1370.4" y1="1143.6" x2="1385.4" y2="1143.6" stroke="#444" stroke-width="4"/>
<line x1="170.3" y1="1217.9" x2="177.9" y2="1217.9" stroke="#444" stroke-width="4"/>
<line x1="1370.4" y1="1217.5" x2="1378" y2="1217.5" stroke="#444" stroke-width="4"/>
<line x1="170.3" y1="1292.5" x2="185.3" y2="1292.5" stroke="#444" stroke-width="4"/>
<line x1="1370.4" y1="1291.3" x2="1385.4" y2="1291.3" stroke="#444" stroke-width="4"/>
<line x1="170.3" y1="1367.1" x2="177.9" y2="1367.1" stroke="#444" stroke-width="4"/>
<line x1="1370.4" y1="1365.1" x2="1378" y2="1365.1" stroke="#444" stroke-width="4"/>
<line x1="170.3" y1="1441.7" x2="185.3" y2="1441.7" stroke="#444" stroke-width="4"/>
<line x1="1370.4" y1="1438.9" x2="1385.4" y2="1438.9" stroke="#444" stroke-width="4"/>
<line x1="170.3" y1="1516.3" x2="177.9" y2="1516.3" stroke="#444" stroke-width="4"/>
<line x1="1370.4" y1="1512.7" x2="1378" y2="1512.7" stroke="#444" stroke-width="4"/>
<line x1="170.3" y1="1590.9" x2="185.3" y2="1590.9" stroke="#444" stroke-width="4"/>
<line x1="1370.4" y1="1586.5" x2="1385.4" y2="1586.5" stroke="#444" stroke-width="4"/>
<line x1="170.3" y1="1665.5" x2="177.9" y2="1665.5" stroke="#444" stroke-width="4"/>
<line x1="1370.4" y1="1660.4" x2="1378" y2="1660.4" stroke="#444" stroke-width="4"/>
<line x1="170.3" y1="1740.1" x2="185.3" y2="1740.1" stroke="#444" stroke-width="4"/>
<line x1="1370.4" y1="1734.2" x2="1385.4" y2="1734.2" stroke="#444" stroke-width="4"/>
<text x="153.5 168 189.5" y="902" font-size="37" text-anchor="middle" fill="#333">0.0</text>
<text x="297.5 312 333.5" y="902" font-size="37" text-anchor="middle" fill="#333">0.2</text>
<text x="441.5 456 477.5" y="902" font-size="37" text-anchor="middle" fill="#333">0.4</text>
<text x="585.5 600 621.5" y="902" font-size="37" text-anchor="middle" fill="#333">0.6</text>
<text x="729.5 744 765.5" y="902" font-size="37" text-anchor="middle" fill="#333">0.8</text>
<text x="873.5 888 909.5" y="902" font-size="37" text-anchor="middle" fill="#333">1.0</text>
<text x="1017.5 1032 1053.5" y="902" font-size="37" text-anchor="middle" fill="#333">1.2</text>
<text x="1161.5 1176 1197.5" y="902" font-size="37" text-anchor="middle" fill="#333">1.4</text>
<text x="109.5 124 145.5" y="55.3" font-size="37" text-anchor="middle" fill="#333">0.4</text>
<text x="109.5 124 145.5" y="287.6" font-size="37" text-anchor="middle" fill="#333">0.2</text>
<text x="109.5 124 145.5" y="519.9" font-size="37" text-anchor="middle" fill="#333">0.0</text>
<text x="91.5 109.5 124 145.5" y="752.2" font-size="37" text-anchor="middle" fill="#333">−0.2</text>
<text x="1405.2 1419.7 1441.2" y="902" font-size="37" text-anchor="middle" fill="#333">0.2</text>
<text x="1517.5 1532 1553.5" y="902" font-size="37" text-anchor="middle" fill="#333">0.4</text>
<text x="1629.8 1644.3 1665.8" y="902" font-size="37" text-anchor="middle" fill="#333">0.6</text>
<text x="1742.2 1756.7 1778.2" y="902" font-size="37" text-anchor="middle" fill="#333">0.8</text>
<text x="1854.5 1869 1890.5" y="902" font-size="37" text-anchor="middle" fill="#333">1.0</text>
<text x="1966.8 1981.3 2002.8" y="902" font-size="37" text-anchor="middle" fill="#333">1.2</text>
<text x="2079.2 2093.7 2115.2" y="902" font-size="37" text-anchor="middle" fill="#333">1.4</text>
<text x="2191.5 2206 2227.5" y="902" font-size="37" text-anchor="middle" fill="#333">1.6</text>
<text x="2303.8 2318.3 2339.8" y="902" font-size="37" text-anchor="middle" fill="#333">1.8</text>
<text x="1305.5 1320 1341.5" y="171.4" font-size="37" text-anchor="middle" fill="#333">0.1</text>
<text x="1305.5 1320 1341.5" y="403.7" font-size="37" text-anchor="middle" fill="#333">0.0</text>
<text x="1287.5 1305.5 1320 1341.5" y="636" font-size="37" text-anchor="middle" fill="#333">−0.1</text>
<text x="1287.5 1305.5 1320 1341.5" y="868.3" font-size="37" text-anchor="middle" fill="#333">−0.2</text>
<text x="171.3" y="1862" font-size="36" text-anchor="middle" fill="#333">0</text>
<text x="1371.4" y="1854.6" font-size="36" text-anchor="middle" fill="#333">0</text>
<text x="426" y="1862" font-size="36" text-anchor="middle" fill="#333">500</text>
<text x="1623.4" y="1854.6" font-size="36" text-anchor="middle" fill="#333">500</text>
<text x="680.7" y="1862" font-size="36" text-anchor="middle" fill="#333">1000</text>
<text x="1875.5" y="1854.6" font-size="36" text-anchor="middle" fill="#333">1000</text>
<text x="935.3" y="1862" font-size="36" text-anchor="middle" fill="#333">1500</text>
<text x="2127.5" y="1854.6" font-size="36" text-anchor="middle" fill="#333">1500</text>
<text x="1190" y="1862" font-size="36" text-anchor="middle" fill="#333">2000</text>
<text x="2379.5" y="1854.6" font-size="36" text-anchor="middle" fill="#333">2000</text>
<text x="153" y="1008.1" font-size="36" text-anchor="end" fill="#333">−<tspan dx="-2.2">20</tspan></text>
<text x="1353.5" y="1008.8" font-size="36" text-anchor="end" fill="#333">−<tspan dx="-2.6">20</tspan></text>
<text x="153" y="1157.3" font-size="36" text-anchor="end" fill="#333">−<tspan dx="-2.2">40</tspan></text>
<text x="1353.5" y="1156.4" font-size="36" text-anchor="end" fill="#333">−<tspan dx="-2.6">40</tspan></text>
<text x="153" y="1306.5" font-size="36" text-anchor="end" fill="#333">−<tspan dx="-2.2">60</tspan></text>
<text x="1353.5" y="1304.1" font-size="36" text-anchor="end" fill="#333">−<tspan dx="-2.6">60</tspan></text>
<text x="153" y="1455.7" font-size="36" text-anchor="end" fill="#333">−<tspan dx="-2.2">80</tspan></text>
<text x="1353.5" y="1451.7" font-size="36" text-anchor="end" fill="#333">−<tspan dx="-2.6">80</tspan></text>
<text x="153" y="1604.9" font-size="36" text-anchor="end" fill="#333">−<tspan dx="-2.2">100</tspan></text>
<text x="1353.5" y="1599.3" font-size="36" text-anchor="end" fill="#333">−<tspan dx="-2.6">100</tspan></text>
<text x="153" y="1754.1" font-size="36" text-anchor="end" fill="#333">−<tspan dx="-2.2">120</tspan></text>
<text x="1353.5" y="1747" font-size="36" text-anchor="end" fill="#333">−<tspan dx="-2.6">120</tspan></text>
<text x="621" y="959.5" font-size="45" fill="#111" textLength="134" lengthAdjust="spacingAndGlyphs">Time(s)</text>
<text x="1803.5" y="959" font-size="45" fill="#111" textLength="134" lengthAdjust="spacingAndGlyphs">Time(s)</text>
<text x="550" y="1920" font-size="45" fill="#111" textLength="260" lengthAdjust="spacingAndGlyphs">Frequency(Hz)</text>
<text x="1746" y="1913" font-size="45" fill="#111" textLength="257" lengthAdjust="spacingAndGlyphs">Frequency(Hz)</text>
<text transform="translate(67.7 566.5) rotate(-90)" x="0" y="0" font-size="43" fill="#111" textLength="239" lengthAdjust="spacingAndGlyphs">Amplitude(V)</text>
<text transform="translate(1262.5 566.5) rotate(-90)" x="0" y="0" font-size="43" fill="#111" textLength="239" lengthAdjust="spacingAndGlyphs">Amplitude(V)</text>
<text transform="translate(66 1525.5) rotate(-90)" x="0" y="0" font-size="43" fill="#111" textLength="242.5" lengthAdjust="spacingAndGlyphs">Spectrum(dB)</text>
<text transform="translate(1266.3 1521.5) rotate(-90)" x="0" y="0" font-size="43" fill="#111" textLength="240" lengthAdjust="spacingAndGlyphs">Spectrum(dB)</text>
<text y="125.1" font-size="77.1" font-family="'Noto Serif CJK SC','Noto Serif CJK JP','Liberation Serif',serif" fill="#000"><tspan x="220.9">(</tspan><tspan x="297.2">)</tspan></text>
<text x="252.6" y="122.8" font-size="89" font-weight="bold" fill="#000">a</text>
<text y="120.8" font-size="76.3" font-family="'Noto Serif CJK SC','Noto Serif CJK JP','Liberation Serif',serif" fill="#000"><tspan x="1427">(</tspan><tspan x="1499">)</tspan></text>
<text x="1458.6" y="118.4" font-size="87.3" font-weight="bold" fill="#000">c</text>
<text y="1069.6" font-size="77.7" font-family="'Noto Serif CJK SC','Noto Serif CJK JP','Liberation Serif',serif" fill="#000"><tspan x="221.2">(</tspan><tspan x="306.7">)</tspan></text>
<text x="252.3" y="1067.2" font-size="88.9" font-weight="bold" fill="#000">b</text>
<text y="1073.9" font-size="76.3" font-family="'Noto Serif CJK SC','Noto Serif CJK JP','Liberation Serif',serif" fill="#000"><tspan x="1401.7">(</tspan><tspan x="1489.3">)</tspan></text>
<text x="1433.8" y="1071.5" font-size="90" font-weight="bold" fill="#000">d</text>
<text x="673.5" y="1404.7" font-size="46" font-weight="bold" fill="#000" textLength="147.3" lengthAdjust="spacingAndGlyphs">3.07dB</text>
<text x="1838.5" y="1446" font-size="47" font-weight="bold" fill="#000" textLength="172" lengthAdjust="spacingAndGlyphs">15.41dB</text>
<line x1="2400" y1="974.3" x2="2422" y2="974.3" stroke="#cfcfcf" stroke-width="3.5"/>
</svg>
</body></html>
